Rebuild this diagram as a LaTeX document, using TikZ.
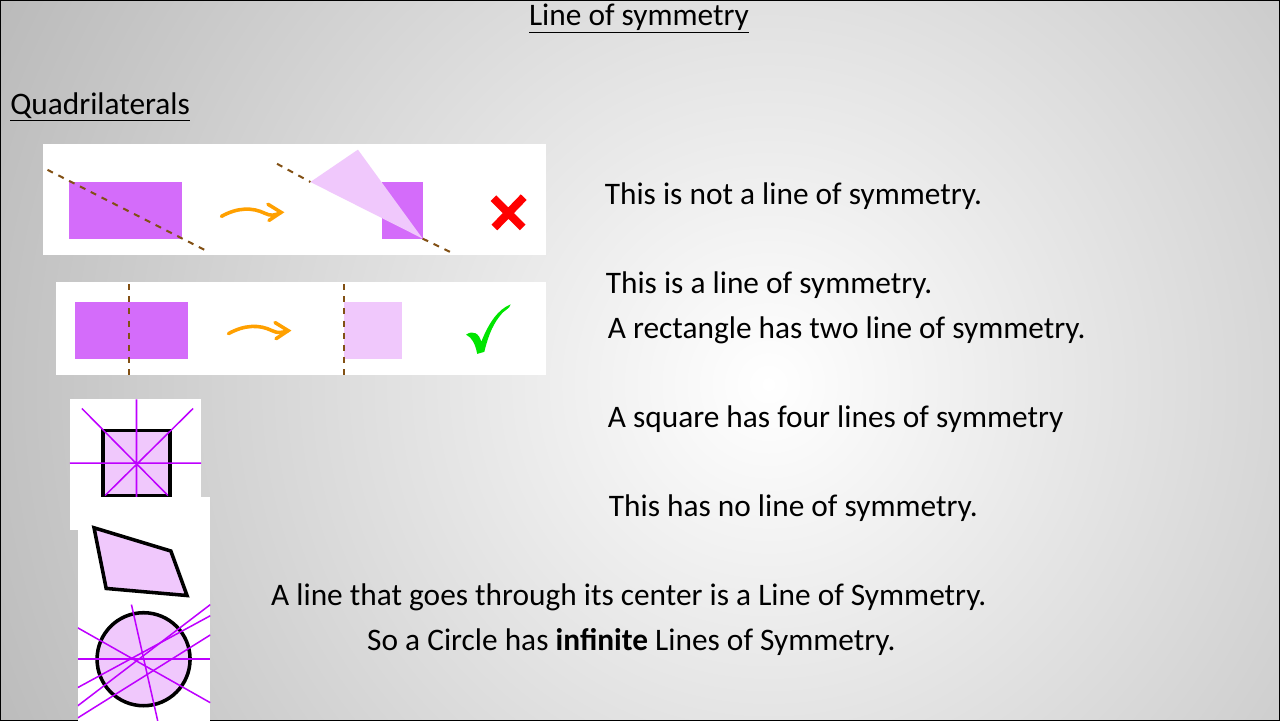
\documentclass[tikz,border=0pt]{standalone}
\usepackage{fontspec}
\setmainfont{Carlito}
\definecolor{dp}{RGB}{212,108,250}
\definecolor{lp}{RGB}{240,200,252}
\definecolor{ln}{RGB}{190,0,255}
\definecolor{br}{RGB}{130,80,20}
\definecolor{og}{RGB}{255,160,0}
\definecolor{bgout}{RGB}{150,150,150}
\tikzset{t/.style={font=\fontsize{31}{36}\selectfont,anchor=west,inner sep=0},
 fold/.style={br,dash pattern=on 6pt off 6pt,line width=2pt},
 sym/.style={ln,line width=1.5pt},
 panel/.style={fill=white,draw=none},
 arr/.style={og,line width=3.5pt,line cap=round}}
\begin{document}
\begin{tikzpicture}[x=1pt,y=-1pt]
\begin{scope}
\clip (0,0) rectangle (1266,713);
\shade[inner color=white,outer color=bgout] (760,380) circle (1300);
\end{scope}
\useasboundingbox (0,0) rectangle (1266,713);
\draw[line width=1pt] (0.5,0.5) rectangle (1265.5,712.5);
\node[t,anchor=center] (title) at (632,18) {\underline{Line of symmetry}};
\node[t] (quad) at (10,106) {\underline{Quadrilaterals}};
% panel 1
\fill[panel] (43,142) rectangle (540,252);
\fill[dp] (68,180) rectangle (180,236);
\draw[fold] (47,168) -- (202,247);
\draw[arr] (219,214) .. controls (235,205) and (250,205) .. (262,211) .. controls (268,214) and (272,213) .. (278,210);
\draw[arr] (265,202) -- (278,210) -- (266,218);
\fill[dp] (378,180) rectangle (418,236);
\fill[lp] (307,180) -- (354,148) -- (418,236) -- cycle;
\draw[fold] (274,162) -- (307,180);
\draw[fold] (418,236) -- (449,251);
\draw[red,line width=8pt] (488,196) -- (517,225) (518,195) -- (489,225);
% panel 2
\fill[panel] (55,279) rectangle (540,371);
\fill[dp] (74,299) rectangle (186,355);
\draw[fold] (128,281) -- (128,371);
\draw[arr] (226,330) .. controls (242,321) and (257,321) .. (269,327) .. controls (275,330) and (279,329) .. (285,327);
\draw[arr] (272,319) -- (285,327) -- (273,335);
\fill[lp] (340,299) rectangle (398,355);
\draw[fold] (340,281) -- (340,371);
\fill[green!90!black] (461,331) .. controls (468,326) and (474,330) .. (476,338) .. controls (484,318) and (493,306) .. (505,301) .. controls (504,306) and (500,305) .. (494,313) .. controls (486,323) and (482,336) .. (479,348) -- (472,350) .. controls (470,340) and (467,334) .. (461,331) -- cycle;
% square
\fill[panel] (69,395) rectangle (199,524);
\filldraw[fill=lp,line width=3.5pt] (102,426) rectangle (168,490);
\draw[sym] (135,395) -- (135,492) (69,458) -- (199,458) (81,404) -- (166,490) (191,404) -- (104,490);
% quad and circle
\fill[panel] (77,492) rectangle (208,713);
\filldraw[fill=lp,line width=3.5pt,line join=miter] (93,522) -- (169,545) -- (185,589) -- (105,582) -- cycle;
\filldraw[fill=lp,line width=3.5pt] (142,652) circle (46);
\begin{scope}
\clip (77,598) rectangle (208,713);
\draw[sym] (77,652) -- (208,652);
\draw[sym] (130,598) -- (156,713);
\draw[sym] (77,621) -- (208,695);
\draw[sym] (77,680) -- (208,609);
\draw[sym] (77,698) -- (208,598);
\draw[sym] (77,710) -- (208,628);
\end{scope}
% texts
\node[t] (a) at (598,194) {This is not a line of symmetry.};
\node[t] (b) at (599,282) {This is a line of symmetry.};
\node[t] (c) at (601,327) {A rectangle has two line of symmetry.};
\node[t] (d) at (601,415) {A square has four lines of symmetry};
\node[t] (e) at (602,503) {This has no line of symmetry.};
\node[t] (f) at (268,591) {A line that goes through its center is a Line of Symmetry.};
\node[t] (g) at (363,635) {So a Circle has \textbf{infinite} Lines of Symmetry.};
\end{tikzpicture}
\end{document}
